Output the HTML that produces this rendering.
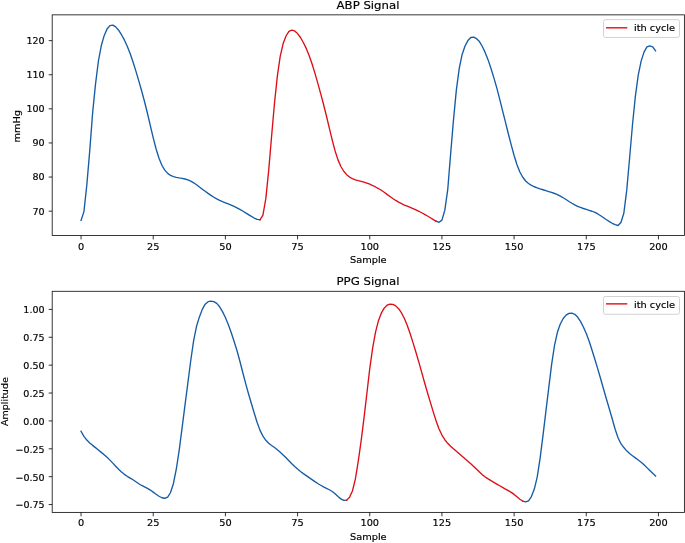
<!DOCTYPE html>
<html lang="en"><head><meta charset="utf-8"><title>ABP and PPG Signal</title>
<style>
html,body{margin:0;padding:0;background:#fff;}
body{width:685px;height:543px;overflow:hidden;}
svg{display:block;}
text{font-family:"DejaVu Sans", "Liberation Sans", sans-serif;fill:#000;stroke:#000;stroke-width:0.18px;}
.t{font-size:10px;}
.ttl{font-size:12px;}
.fr{fill:none;stroke:#151515;stroke-width:0.85;stroke-linejoin:miter;}
.tk{stroke:#000;stroke-width:0.8;}
.c{fill:none;stroke-width:1.35;stroke-linejoin:round;stroke-linecap:square;}
</style></head><body>
<svg width="685" height="543" viewBox="0 0 685 543">
<rect width="685" height="543" fill="#fff"/>
<g>
<path class="c" stroke="#165ca5" d="M81.05,220.47 L83.94,211.61 L86.82,184.86 L89.71,151.12 L92.60,113.15 L95.48,84.44 L98.37,61.25 L101.26,45.80 L104.15,35.66 L107.03,29.03 L109.92,25.65 L112.81,25.14 L115.69,26.86 L118.58,30.20 L121.47,34.72 L124.35,39.95 L127.24,46.20 L130.13,53.48 L133.02,61.93 L135.90,71.14 L138.79,80.92 L141.68,91.06 L144.56,101.74 L147.45,113.24 L150.34,125.55 L153.22,137.86 L156.11,149.01 L159.00,158.28 L161.89,165.26 L164.77,170.17 L167.66,173.40 L170.55,175.44 L173.43,176.55 L176.32,177.31 L179.21,177.89 L182.09,178.40 L184.98,179.02 L187.87,179.90 L190.76,181.16 L193.64,182.79 L196.53,184.75 L199.42,186.93 L202.30,189.16 L205.19,191.33 L208.08,193.42 L210.96,195.39 L213.85,197.24 L216.74,198.90 L219.63,200.34 L222.51,201.61 L225.40,202.80 L228.29,203.96 L231.17,205.16 L234.06,206.44 L236.95,207.83 L239.83,209.34 L242.72,211.02 L245.61,212.81 L248.50,214.66 L251.38,216.42 L254.27,218.02 L257.16,219.34 L260.04,219.78"/>
<path class="c" stroke="#165ca5" d="M436.15,221.22 L439.04,222.30 L441.93,220.14 L444.81,210.20 L447.70,189.96 L450.59,154.42 L453.47,120.16 L456.36,89.84 L459.25,68.36 L462.13,54.41 L465.02,45.97 L467.91,40.58 L470.80,37.54 L473.68,37.10 L476.57,38.71 L479.46,41.60 L482.34,46.53 L485.23,52.66 L488.12,59.90 L491.00,68.43 L493.89,77.84 L496.78,87.84 L499.67,99.11 L502.55,110.58 L505.44,122.08 L508.33,133.72 L511.21,144.93 L514.10,155.51 L516.99,164.70 L519.87,171.97 L522.76,177.28 L525.65,180.96 L528.53,183.46 L531.42,185.33 L534.31,186.75 L537.20,187.90 L540.08,188.87 L542.97,189.75 L545.86,190.62 L548.74,191.52 L551.63,192.47 L554.52,193.49 L557.40,194.66 L560.29,196.07 L563.18,197.72 L566.07,199.55 L568.95,201.45 L571.84,203.25 L574.73,204.87 L577.61,206.27 L580.50,207.47 L583.39,208.50 L586.27,209.43 L589.16,210.31 L592.05,211.25 L594.94,212.44 L597.82,213.96 L600.71,215.78 L603.60,217.76 L606.48,219.75 L609.37,221.57 L612.26,223.27 L615.14,224.62 L618.03,225.50 L620.92,222.47 L623.81,213.29 L626.69,190.66 L629.58,158.26 L632.47,124.99 L635.35,96.37 L638.24,75.14 L641.13,61.12 L644.01,52.13 L646.90,46.87 L649.79,45.90 L652.68,46.78 L655.56,50.90"/>
<path class="c" stroke="#dc0e18" stroke-width="1.9" d="M260.04,219.78 L262.93,215.06 L265.82,198.64 L268.70,170.40 L271.59,136.30 L274.48,103.27 L277.37,75.85 L280.25,56.15 L283.14,43.58 L286.03,36.00 L288.91,31.41 L291.80,30.07 L294.69,30.91 L297.57,33.59 L300.46,37.50 L303.35,42.48 L306.24,48.41 L309.12,55.50 L312.01,63.82 L314.90,73.10 L317.78,83.08 L320.67,93.67 L323.56,104.51 L326.44,116.00 L329.33,128.08 L332.22,140.12 L335.11,150.97 L337.99,159.86 L340.88,166.50 L343.77,171.25 L346.65,174.64 L349.54,177.10 L352.43,178.73 L355.31,179.82 L358.20,180.66 L361.09,181.40 L363.98,182.17 L366.86,183.10 L369.75,184.21 L372.64,185.51 L375.52,186.97 L378.41,188.54 L381.30,190.29 L384.19,192.25 L387.07,194.34 L389.96,196.47 L392.85,198.52 L395.73,200.44 L398.62,202.17 L401.51,203.71 L404.39,205.04 L407.28,206.20 L410.17,207.32 L413.06,208.54 L415.94,209.86 L418.83,211.27 L421.72,212.76 L424.60,214.31 L427.49,215.98 L430.38,217.73 L433.26,219.59 L436.15,221.22"/>
<rect class="fr" x="52.2" y="14.85" width="632.20" height="220.65"/>
<line class="tk" x1="81.05" x2="81.05" y1="235.5" y2="239.4"/>
<text class="t" transform="translate(81.05,250.10) scale(0.978,0.93)" text-anchor="middle">0</text>
<line class="tk" x1="153.22" x2="153.22" y1="235.5" y2="239.4"/>
<text class="t" transform="translate(153.22,250.10) scale(0.978,0.93)" text-anchor="middle">25</text>
<line class="tk" x1="225.40" x2="225.40" y1="235.5" y2="239.4"/>
<text class="t" transform="translate(225.40,250.10) scale(0.978,0.93)" text-anchor="middle">50</text>
<line class="tk" x1="297.57" x2="297.57" y1="235.5" y2="239.4"/>
<text class="t" transform="translate(297.57,250.10) scale(0.978,0.93)" text-anchor="middle">75</text>
<line class="tk" x1="369.75" x2="369.75" y1="235.5" y2="239.4"/>
<text class="t" transform="translate(369.75,250.10) scale(0.978,0.93)" text-anchor="middle">100</text>
<line class="tk" x1="441.93" x2="441.93" y1="235.5" y2="239.4"/>
<text class="t" transform="translate(441.93,250.10) scale(0.978,0.93)" text-anchor="middle">125</text>
<line class="tk" x1="514.10" x2="514.10" y1="235.5" y2="239.4"/>
<text class="t" transform="translate(514.10,250.10) scale(0.978,0.93)" text-anchor="middle">150</text>
<line class="tk" x1="586.27" x2="586.27" y1="235.5" y2="239.4"/>
<text class="t" transform="translate(586.27,250.10) scale(0.978,0.93)" text-anchor="middle">175</text>
<line class="tk" x1="658.45" x2="658.45" y1="235.5" y2="239.4"/>
<text class="t" transform="translate(658.45,250.10) scale(0.978,0.93)" text-anchor="middle">200</text>
<line class="tk" x1="48.70" x2="52.2" y1="211.16" y2="211.16"/>
<text class="t" transform="translate(44.60,214.56) scale(0.955,0.93)" text-anchor="end">70</text>
<line class="tk" x1="48.70" x2="52.2" y1="177.06" y2="177.06"/>
<text class="t" transform="translate(44.60,180.46) scale(0.955,0.93)" text-anchor="end">80</text>
<line class="tk" x1="48.70" x2="52.2" y1="142.95" y2="142.95"/>
<text class="t" transform="translate(44.60,146.35) scale(0.955,0.93)" text-anchor="end">90</text>
<line class="tk" x1="48.70" x2="52.2" y1="108.85" y2="108.85"/>
<text class="t" transform="translate(44.60,112.25) scale(0.955,0.93)" text-anchor="end">100</text>
<line class="tk" x1="48.70" x2="52.2" y1="74.74" y2="74.74"/>
<text class="t" transform="translate(44.60,78.14) scale(0.955,0.93)" text-anchor="end">110</text>
<line class="tk" x1="48.70" x2="52.2" y1="40.64" y2="40.64"/>
<text class="t" transform="translate(44.60,44.04) scale(0.955,0.93)" text-anchor="end">120</text>
<text class="t" transform="translate(368.30,263.40) scale(0.978,0.93)" text-anchor="middle">Sample</text>
<text class="ttl" transform="translate(368.00,8.95) scale(0.978,0.93)" text-anchor="middle">ABP Signal</text>
<text class="t" transform="translate(20.30,126.30) rotate(-90) scale(0.978,0.93)" text-anchor="middle">mmHg</text>
<rect x="603.5" y="19.65" width="76" height="17.8" rx="2" ry="2" fill="#fff" fill-opacity="0.8" stroke="#c6c6c6" stroke-width="0.8"/>
<line x1="606.0" x2="627.3"  y1="27.80" y2="27.80" stroke="#e81c26" stroke-width="1.5"/>
<text class="t" transform="translate(634.00,31.45) scale(0.978,0.93)" text-anchor="start">ith cycle</text>
</g>
<g>
<path class="c" stroke="#165ca5" d="M81.05,431.29 L83.94,436.30 L86.82,440.04 L89.71,442.94 L92.60,445.35 L95.48,447.62 L98.37,449.98 L101.26,452.38 L104.15,454.79 L107.03,457.34 L109.92,460.12 L112.81,463.13 L115.69,466.24 L118.58,469.26 L121.47,472.01 L124.35,474.35 L127.24,476.31 L130.13,478.05 L133.02,479.78 L135.90,481.72 L138.79,483.71 L141.68,485.47 L144.56,486.87 L147.45,488.33 L150.34,490.07 L153.22,492.09 L156.11,494.23 L159.00,496.26 L161.89,497.74 L164.77,498.26 L167.66,497.09 L170.55,492.51 L173.43,483.46 L176.32,469.00 L179.21,450.19 L182.09,427.91 L184.98,405.19 L187.87,382.82 L190.76,360.50 L193.64,340.62 L196.53,326.26 L199.42,316.90 L202.30,309.37 L205.19,304.20 L208.08,301.71 L210.96,301.13 L213.85,301.61 L216.74,303.43 L219.63,306.79 L222.51,311.60 L225.40,317.51 L228.29,324.51 L231.17,332.50 L234.06,341.21 L236.95,350.52 L239.83,360.95 L242.72,372.22 L245.61,383.43 L248.50,393.79 L251.38,403.53 L254.27,413.25 L257.16,422.54 L260.04,430.36 L262.93,436.17 L265.82,440.30 L268.70,443.25 L271.59,445.46 L274.48,447.55 L277.37,449.78 L280.25,452.24 L283.14,454.93 L286.03,457.78 L288.91,460.72 L291.80,463.66 L294.69,466.46 L297.57,469.06 L300.46,471.44 L303.35,473.63 L306.24,475.65 L309.12,477.63 L312.01,479.64 L314.90,481.63 L317.78,483.51 L320.67,485.28 L323.56,486.89 L326.44,488.33 L329.33,489.75 L332.22,491.47 L335.11,493.77 L337.99,496.43 L340.88,498.86 L343.77,500.36 L346.65,500.14"/>
<path class="c" stroke="#165ca5" d="M522.76,501.12 L525.65,501.93 L528.53,500.81 L531.42,496.57 L534.31,489.04 L537.20,477.07 L540.08,458.39 L542.97,435.67 L545.86,411.64 L548.74,387.85 L551.63,364.34 L554.52,345.46 L557.40,332.32 L560.29,323.98 L563.18,318.49 L566.07,315.10 L568.95,313.38 L571.84,313.22 L574.73,314.30 L577.61,317.03 L580.50,321.36 L583.39,326.98 L586.27,333.50 L589.16,341.23 L592.05,350.17 L594.94,359.55 L597.82,369.10 L600.71,378.97 L603.60,389.23 L606.48,399.22 L609.37,408.98 L612.26,419.03 L615.14,429.27 L618.03,437.81 L620.92,443.68 L623.81,447.55 L626.69,450.83 L629.58,453.52 L632.47,455.78 L635.35,457.85 L638.24,459.94 L641.13,462.19 L644.01,464.77 L646.90,467.61 L649.79,470.49 L652.68,473.34 L655.56,476.06"/>
<path class="c" stroke="#dc0e18" stroke-width="1.9" d="M346.65,500.14 L349.54,497.31 L352.43,491.02 L355.31,479.31 L358.20,461.66 L361.09,441.06 L363.98,418.18 L366.86,393.47 L369.75,368.69 L372.64,348.06 L375.52,332.16 L378.41,320.86 L381.30,313.18 L384.19,308.11 L387.07,305.19 L389.96,304.09 L392.85,304.36 L395.73,305.86 L398.62,308.72 L401.51,312.97 L404.39,318.53 L407.28,325.47 L410.17,333.78 L413.06,342.89 L415.94,352.28 L418.83,362.08 L421.72,372.36 L424.60,382.71 L427.49,392.78 L430.38,402.36 L433.26,411.89 L436.15,421.01 L439.04,428.95 L441.93,435.06 L444.81,439.71 L447.70,443.32 L450.59,446.16 L453.47,448.66 L456.36,451.14 L459.25,453.64 L462.13,456.21 L465.02,458.81 L467.91,461.24 L470.80,463.82 L473.68,466.53 L476.57,469.32 L479.46,471.99 L482.34,474.68 L485.23,477.04 L488.12,478.91 L491.00,480.58 L493.89,482.30 L496.78,484.07 L499.67,485.79 L502.55,487.43 L505.44,489.05 L508.33,490.68 L511.21,492.38 L514.10,494.42 L516.99,496.81 L519.87,499.25 L522.76,501.12"/>
<rect class="fr" x="52.2" y="291.3" width="632.20" height="221.10"/>
<line class="tk" x1="81.05" x2="81.05" y1="512.4" y2="516.3"/>
<text class="t" transform="translate(81.05,526.40) scale(0.978,0.93)" text-anchor="middle">0</text>
<line class="tk" x1="153.22" x2="153.22" y1="512.4" y2="516.3"/>
<text class="t" transform="translate(153.22,526.40) scale(0.978,0.93)" text-anchor="middle">25</text>
<line class="tk" x1="225.40" x2="225.40" y1="512.4" y2="516.3"/>
<text class="t" transform="translate(225.40,526.40) scale(0.978,0.93)" text-anchor="middle">50</text>
<line class="tk" x1="297.57" x2="297.57" y1="512.4" y2="516.3"/>
<text class="t" transform="translate(297.57,526.40) scale(0.978,0.93)" text-anchor="middle">75</text>
<line class="tk" x1="369.75" x2="369.75" y1="512.4" y2="516.3"/>
<text class="t" transform="translate(369.75,526.40) scale(0.978,0.93)" text-anchor="middle">100</text>
<line class="tk" x1="441.93" x2="441.93" y1="512.4" y2="516.3"/>
<text class="t" transform="translate(441.93,526.40) scale(0.978,0.93)" text-anchor="middle">125</text>
<line class="tk" x1="514.10" x2="514.10" y1="512.4" y2="516.3"/>
<text class="t" transform="translate(514.10,526.40) scale(0.978,0.93)" text-anchor="middle">150</text>
<line class="tk" x1="586.27" x2="586.27" y1="512.4" y2="516.3"/>
<text class="t" transform="translate(586.27,526.40) scale(0.978,0.93)" text-anchor="middle">175</text>
<line class="tk" x1="658.45" x2="658.45" y1="512.4" y2="516.3"/>
<text class="t" transform="translate(658.45,526.40) scale(0.978,0.93)" text-anchor="middle">200</text>
<line class="tk" x1="48.70" x2="52.2" y1="504.56" y2="504.56"/>
<text class="t" transform="translate(44.60,508.46) scale(0.955,0.93)" text-anchor="end">−0.75</text>
<line class="tk" x1="48.70" x2="52.2" y1="476.68" y2="476.68"/>
<text class="t" transform="translate(44.60,480.58) scale(0.955,0.93)" text-anchor="end">−0.50</text>
<line class="tk" x1="48.70" x2="52.2" y1="448.80" y2="448.80"/>
<text class="t" transform="translate(44.60,452.70) scale(0.955,0.93)" text-anchor="end">−0.25</text>
<line class="tk" x1="48.70" x2="52.2" y1="420.92" y2="420.92"/>
<text class="t" transform="translate(44.60,424.82) scale(0.955,0.93)" text-anchor="end">0.00</text>
<line class="tk" x1="48.70" x2="52.2" y1="393.04" y2="393.04"/>
<text class="t" transform="translate(44.60,396.94) scale(0.955,0.93)" text-anchor="end">0.25</text>
<line class="tk" x1="48.70" x2="52.2" y1="365.16" y2="365.16"/>
<text class="t" transform="translate(44.60,369.06) scale(0.955,0.93)" text-anchor="end">0.50</text>
<line class="tk" x1="48.70" x2="52.2" y1="337.28" y2="337.28"/>
<text class="t" transform="translate(44.60,341.18) scale(0.955,0.93)" text-anchor="end">0.75</text>
<line class="tk" x1="48.70" x2="52.2" y1="309.40" y2="309.40"/>
<text class="t" transform="translate(44.60,313.30) scale(0.955,0.93)" text-anchor="end">1.00</text>
<text class="t" transform="translate(368.30,540.30) scale(0.978,0.93)" text-anchor="middle">Sample</text>
<text class="ttl" transform="translate(368.00,284.80) scale(0.978,0.93)" text-anchor="middle">PPG Signal</text>
<text class="t" transform="translate(8.20,401.60) rotate(-90) scale(0.955,0.93)" text-anchor="middle">Amplitude</text>
<rect x="603.5" y="296.50" width="76" height="17.8" rx="2" ry="2" fill="#fff" fill-opacity="0.8" stroke="#c6c6c6" stroke-width="0.8"/>
<line x1="606.0" x2="627.3"  y1="303.85" y2="303.85" stroke="#e81c26" stroke-width="1.5"/>
<text class="t" transform="translate(634.00,307.50) scale(0.978,0.93)" text-anchor="start">ith cycle</text>
</g>
</svg></body></html>
